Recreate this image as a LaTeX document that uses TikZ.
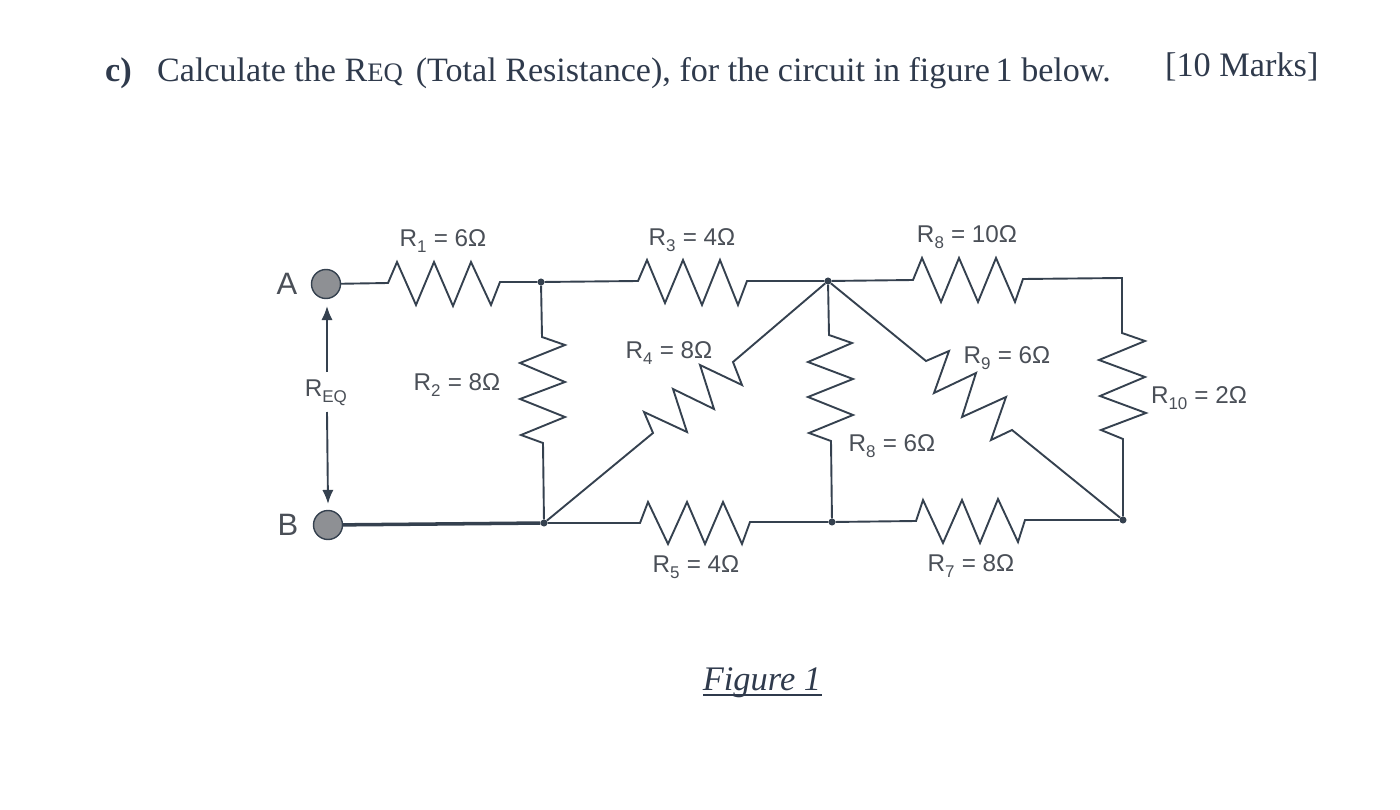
\documentclass[tikz,border=0pt]{standalone}
\usepackage{fontspec}
\usetikzlibrary{arrows.meta}
\setmainfont{Liberation Serif}
\newfontfamily\lblfont{Liberation Sans}
\newcommand{\lbl}[3]{#1\textsubscript{#2}#3}
\definecolor{wirecol}{HTML}{35414F}
\definecolor{lblcol}{HTML}{4A4F57}
\definecolor{termcol}{HTML}{8E9094}
\definecolor{titlecol}{HTML}{2F3A4C}
\tikzset{
  x=0.05cm,y=-0.05cm,
  wire/.style={draw=wirecol,line width=2.7pt,line join=miter},
  busw/.style={draw=wirecol,line width=5pt},
  value/.style={font=\lblfont\fontsize{34.5}{34.5}\selectfont,text=lblcol,inner sep=0pt,anchor=center,yshift=-4pt},
  termlabel/.style={font=\lblfont\fontsize{44}{44}\selectfont,text=lblcol,inner sep=0pt,anchor=center},
  terminal/.style={circle,draw=wirecol,fill=termcol,line width=2pt,minimum size=1.45cm,inner sep=0pt},
  junction/.style={circle,fill=wirecol,minimum size=10pt,inner sep=0pt},
  title/.style={font=\fontsize{48.8}{48.8}\selectfont,text=titlecol,inner sep=0pt,anchor=base west},
  arrowwire/.style={wire,-{Latex[length=20pt,width=16pt]}},
}
\begin{document}
\begin{tikzpicture}
\useasboundingbox (0,0) rectangle (1400,810);
\node[title] (q) at (105,82) {\textbf{c)}};
\node[title,font=\fontsize{48.5}{48.5}\selectfont] (t) at (157,82) {Calculate the R{\fontsize{38}{38}\selectfont EQ\,} (Total Resistance), for the circuit in figure\,1 below.};
\node[title] (m) at (1165,77) {[10 Marks]};
\node[terminal] (A) at (326,284) {};
\node[terminal] (B) at (328,525) {};
\node[junction] (j1) at (541,282) {};
\node[junction] (j2) at (544,523) {};
\node[junction] (j3) at (828,281) {};
\node[junction] (j4) at (832,522) {};
\node[junction] (j5) at (1123,520) {};
\node[termlabel] (la) at (287,284) {A};
\node[termlabel] (lb) at (288,525) {B};
\node[value] (lreq) at (326,390) {\lbl{R}{EQ}{}};
\coordinate (up) at (327,306);
\coordinate (dn) at (328,504);
\coordinate (ups) at (327,372);
\coordinate (dns) at (327,412);
\draw[arrowwire] (ups) -- (up);
\draw[arrowwire] (dns) -- (dn);
\draw[busw] (B) -- (j2);
% R1
\draw[wire] (A) -- (388,283) -- (397,262) -- (416,305) -- (434,262) -- (453,306) -- (471,262) -- (491,305) -- (500,282) -- (j1);
% R3
\draw[wire] (j1) -- (638,281) -- (647,260) -- (665,303) -- (683,260) -- (702,305) -- (720,260) -- (738,305) -- (747,281) -- (j3);
% R8 top
\draw[wire] (j3) -- (913,280) -- (922,258) -- (941,302) -- (959,258) -- (978,302) -- (996,258) -- (1015,302) -- (1023,279) -- (1122,278) -- (1122,333) -- (1145,341) -- (1099,360) -- (1145,377) -- (1100,396) -- (1146,413) -- (1101,430) -- (1123,439) -- (j5);
% R5
\draw[wire] (j2) -- (640,523) -- (648,502) -- (668,544) -- (687,502) -- (705,544) -- (723,502) -- (742,544) -- (750,522) -- (j4);
% R7
\draw[wire] (j4) -- (916,521) -- (923,500) -- (943,543) -- (962,500) -- (980,543) -- (998,499) -- (1018,542) -- (1025,520) -- (j5);
% R2
\draw[wire] (j1) -- (542,337) -- (565,345) -- (520,363) -- (565,382) -- (520,399) -- (565,417) -- (521,435) -- (543,443) -- (j2);
% R4
\draw[wire] (j2) -- (653,433) -- (644,412) -- (687,432) -- (673,389) -- (714,409) -- (700,365) -- (742,385) -- (733,362) -- (j3);
% R6
\draw[wire] (j3) -- (829,335) -- (852,343) -- (808,362) -- (853,379) -- (808,397) -- (853,415) -- (809,433) -- (831,441) -- (j4);
% R9
\draw[wire] (j3) -- (926,361) -- (949,351) -- (934,393) -- (976,373) -- (962,417) -- (1006,397) -- (991,440) -- (1012,430) -- (j5);
\node[value] (l1) at (443,238) {\lbl{R}{1}{ = 6Ω}};
\node[value] (l3) at (692,237) {\lbl{R}{3}{ = 4Ω}};
\node[value] (l8) at (967,234) {\lbl{R}{8}{ = 10Ω}};
\node[value] (l4) at (669,350) {\lbl{R}{4}{ = 8Ω}};
\node[value] (l2) at (457,382) {\lbl{R}{2}{ = 8Ω}};
\node[value] (l9) at (1007,355) {\lbl{R}{9}{ = 6Ω}};
\node[value] (l10) at (1199,395) {\lbl{R}{10}{ = 2Ω}};
\node[value] (l6) at (892,443) {\lbl{R}{8}{ = 6Ω}};
\node[value] (l5) at (696,564) {\lbl{R}{5}{ = 4Ω}};
\node[value] (l7) at (971,563) {\lbl{R}{7}{ = 8Ω}};
\node[font=\itshape\fontsize{49}{49}\selectfont,text=titlecol,inner sep=0pt,anchor=base] (fig) at (762,690) {Figure 1};
\coordinate (ul) at (703,695);
\coordinate (ur) at (822,695);
\draw[draw=titlecol,line width=1.8pt] (ul) -- (ur);
\end{tikzpicture}
\end{document}
